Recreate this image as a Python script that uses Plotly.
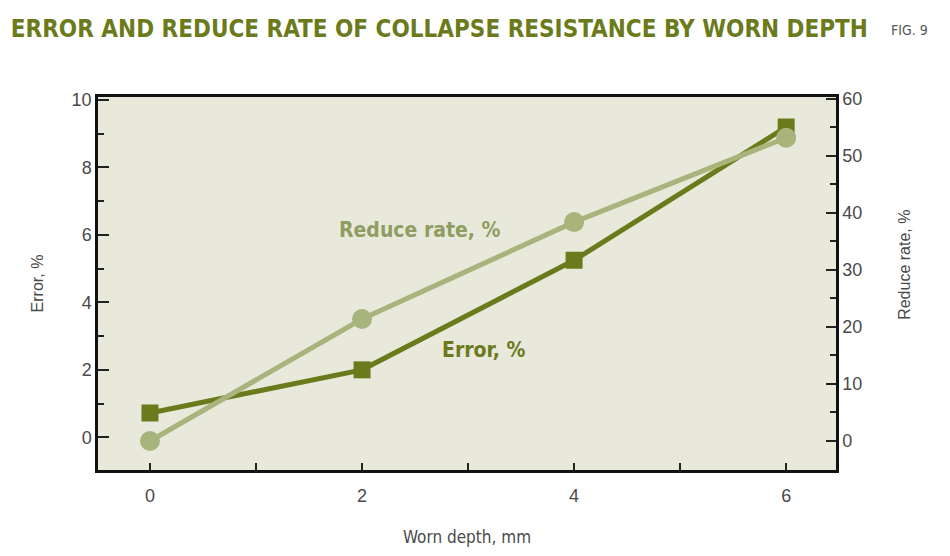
import plotly.graph_objects as go

# Dados
profundidade = [0, 2, 4, 6]  # Worn depth, mm
erro_pct = [0.72, 2.0, 5.25, 9.2]  # Error, %
taxa_reducao = [0.0, 21.4, 38.4, 53.2]  # Reduce rate, %

verde_escuro = '#6b7b1c'
verde_claro = '#a8b47c'
fundo = '#e8e9db'
cinza = '#4a4a4a'
condensada = 'DejaVu Sans Condensed, Roboto, sans-serif'

fig = go.Figure()

# Reduce rate (eixo da direita)
fig.add_trace(go.Scatter(x=profundidade, y=taxa_reducao, yaxis='y2', mode='lines+markers',
                         line=dict(color=verde_claro, width=5),
                         marker=dict(symbol='circle', size=20, color=verde_claro),
                         showlegend=False))

# Error (eixo da esquerda)
fig.add_trace(go.Scatter(x=profundidade, y=erro_pct, mode='lines+markers',
                         line=dict(color=verde_escuro, width=5),
                         marker=dict(symbol='square', size=17, color=verde_escuro),
                         showlegend=False))

fig.update_layout(
    width=950, height=556,
    margin=dict(l=90, r=122, t=89, b=94),
    paper_bgcolor='white', plot_bgcolor=fundo,
    font=dict(family='Liberation Sans, Arial, sans-serif', color=cinza),
    title=dict(text='ERROR AND REDUCE RATE OF COLLAPSE RESISTANCE BY WORN DEPTH',
               x=0.003, xanchor='left', xref='container', y=0.963, yanchor='middle',
               font=dict(family=condensada, size=24, color=verde_escuro, weight='bold')),
    xaxis=dict(range=[-0.49, 6.47], dtick=2, tick0=0, ticks='inside', ticklen=7, tickwidth=1.5,
               tickcolor='#222', showline=True, linecolor='#111', linewidth=2.5, mirror=True,
               showgrid=False, zeroline=False, tickfont=dict(size=18, color=cinza),
               ticklabelstandoff=8,
               minor=dict(dtick=1, tick0=0, ticks='inside', ticklen=7, tickcolor='#222', showgrid=False),
               title=dict(text='Worn depth, mm', standoff=26,
                          font=dict(family=condensada, size=17, color=cinza))),
    yaxis=dict(range=[-0.97, 10.09], dtick=2, tick0=0, ticks='inside', ticklen=11, tickwidth=1.5,
               tickcolor='#222', showline=True, linecolor='#111', linewidth=2.5, mirror=True,
               showgrid=False, zeroline=False, tickfont=dict(size=18, color=cinza),
               minor=dict(dtick=1, tick0=0, ticks='inside', ticklen=6, tickcolor='#222', showgrid=False),
               title=dict(text='Error, %', standoff=25, font=dict(size=16, color=cinza))),
    yaxis2=dict(range=[-5.09, 60.35], dtick=10, tick0=0, overlaying='y', side='right',
                ticks='inside', ticklen=10, tickwidth=1.5, tickcolor='#222',
                showline=True, linecolor='#111', linewidth=2.5,
                showgrid=False, zeroline=False, tickfont=dict(size=18, color=cinza),
                minor=dict(dtick=5, tick0=0, ticks='inside', ticklen=6, tickcolor='#222', showgrid=False)),
)

# Título do eixo da direita (um pouco acima do centro, como no original)
fig.add_annotation(x=1.0935, y=0.55, xref='paper', yref='paper', text='Reduce rate, %',
                   showarrow=False, textangle=-90, xanchor='center', yanchor='middle',
                   font=dict(size=16, color=cinza))

# Rótulos das séries dentro do gráfico
fig.add_annotation(x=2.55, y=6.15, text='Reduce rate, %', showarrow=False,
                   font=dict(family=condensada, size=21, color='#8f9c62', weight='bold'))
fig.add_annotation(x=3.15, y=2.6, text='Error, %', showarrow=False,
                   font=dict(family=condensada, size=21, color=verde_escuro, weight='bold'))

# FIG. 9
fig.add_annotation(x=1.127, y=1.18, xref='paper', yref='paper', text='FIG. 9', showarrow=False,
                   xanchor='right', yanchor='middle',
                   font=dict(family=condensada, size=14, color='#555'))

fig.write_html("out.html")
